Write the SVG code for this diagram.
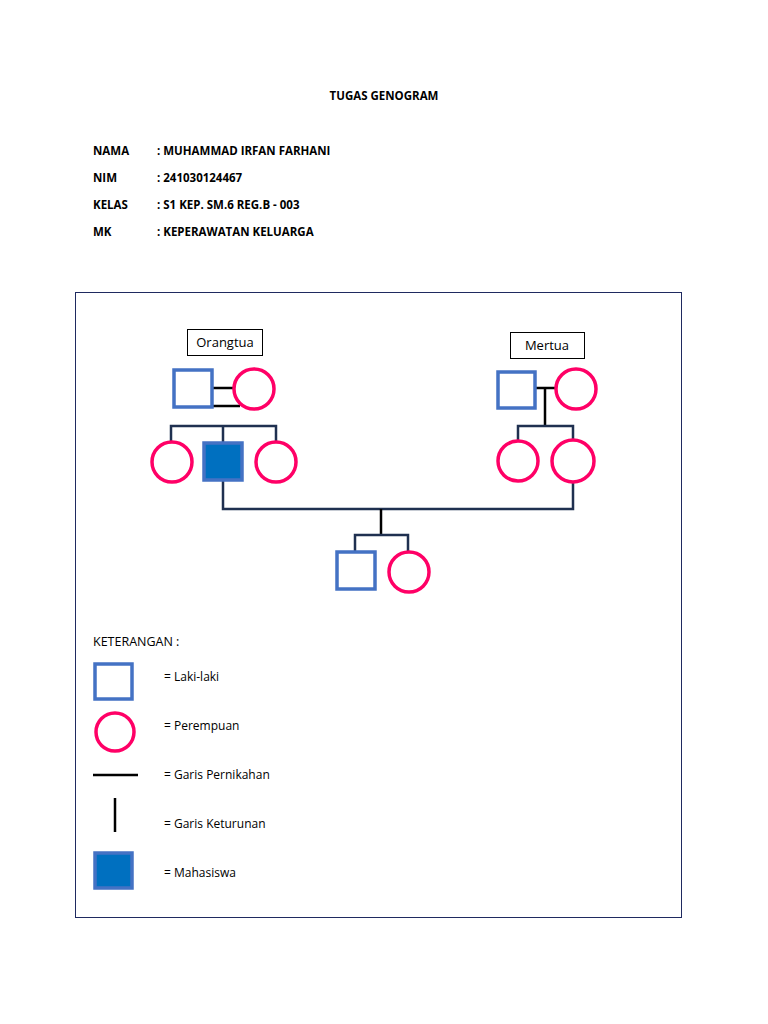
<svg xmlns="http://www.w3.org/2000/svg" width="768" height="1024" viewBox="0 0 768 1024">
<style>
text{font-family:"Open Sans","Liberation Sans",sans-serif;font-size:12px;fill:#000}
.b{font-weight:bold;font-size:11.5px}
.m{fill:none;stroke:#4472c4;stroke-width:3.5}
.f{fill:none;stroke:#ff0066;stroke-width:3.5}
.s{fill:#0070c0;stroke:#4472c4;stroke-width:3.5}
.c{fill:none;stroke:#1f3050;stroke-width:2.5}
.k{fill:none;stroke:#000;stroke-width:2.5}
</style>
<rect width="768" height="1024" fill="#fff"/>
<text class="b" x="384" y="100" text-anchor="middle">TUGAS GENOGRAM</text>
<text class="b" x="93" y="155">NAMA</text><text class="b" x="157" y="155">: MUHAMMAD IRFAN FARHANI</text>
<text class="b" x="93" y="182">NIM</text><text class="b" x="157" y="182">: 241030124467</text>
<text class="b" x="93" y="209">KELAS</text><text class="b" x="157" y="209">: S1 KEP. SM.6 REG.B - 003</text>
<text class="b" x="93" y="236">MK</text><text class="b" x="157" y="236">: KEPERAWATAN KELUARGA</text>
<rect x="75.5" y="292.5" width="606" height="625" fill="none" stroke="#1f2a60" stroke-width="1"/>
<g id="connectors">
<path class="k" d="M213 388H234M213 406H240"/>
<path class="c" d="M171 442V426H276V442M223 426V442"/>
<path class="k" d="M536 388H555M545 388V426"/>
<path class="c" d="M518 441V426H573V441"/>
<path class="c" d="M223 480V509H573V482"/>
<path class="k" d="M381 509V535"/>
<path class="c" d="M355 552V535H408V552"/>
</g>
<g id="label-orangtua"><rect x="187.5" y="329.5" width="75" height="26" fill="#fff" stroke="#000"/><text x="225" y="347" text-anchor="middle" style="font-size:13px">Orangtua</text></g>
<g id="label-mertua"><rect x="510.5" y="332.5" width="74" height="26" fill="#fff" stroke="#000"/><text x="547" y="350" text-anchor="middle" style="font-size:13px">Mertua</text></g>
<g id="father1"><rect class="m" x="174" y="370" width="38" height="37"/></g>
<g id="mother1"><circle class="f" cx="254" cy="389" r="20"/></g>
<g id="sibling1"><circle class="f" cx="172" cy="462" r="20"/></g>
<g id="mahasiswa"><rect class="s" x="204" y="443" width="38" height="37"/></g>
<g id="sibling2"><circle class="f" cx="276" cy="462" r="20"/></g>
<g id="father2"><rect class="m" x="498" y="372" width="37" height="36"/></g>
<g id="mother2"><circle class="f" cx="576" cy="389" r="20"/></g>
<g id="inlaw1"><circle class="f" cx="518" cy="461" r="20"/></g>
<g id="wife"><circle class="f" cx="573" cy="461" r="21"/></g>
<g id="child1"><rect class="m" x="337" y="552" width="38" height="37"/></g>
<g id="child2"><circle class="f" cx="409" cy="572" r="20"/></g>
<text x="93" y="646" style="font-size:12.5px">KETERANGAN :</text>
<g id="leg-male"><rect class="m" x="95" y="664" width="37" height="35"/><text x="164" y="681">= Laki-laki</text></g>
<g id="leg-female"><circle class="f" cx="115" cy="732" r="19"/><text x="164" y="730">= Perempuan</text></g>
<g id="leg-marriage"><path class="k" d="M93 775H138"/><text x="164" y="779">= Garis Pernikahan</text></g>
<g id="leg-desc"><path class="k" d="M115 798V832"/><text x="164" y="828">= Garis Keturunan</text></g>
<g id="leg-student"><rect class="s" x="95" y="853" width="37" height="35"/><text x="164" y="877">= Mahasiswa</text></g>
</svg>
